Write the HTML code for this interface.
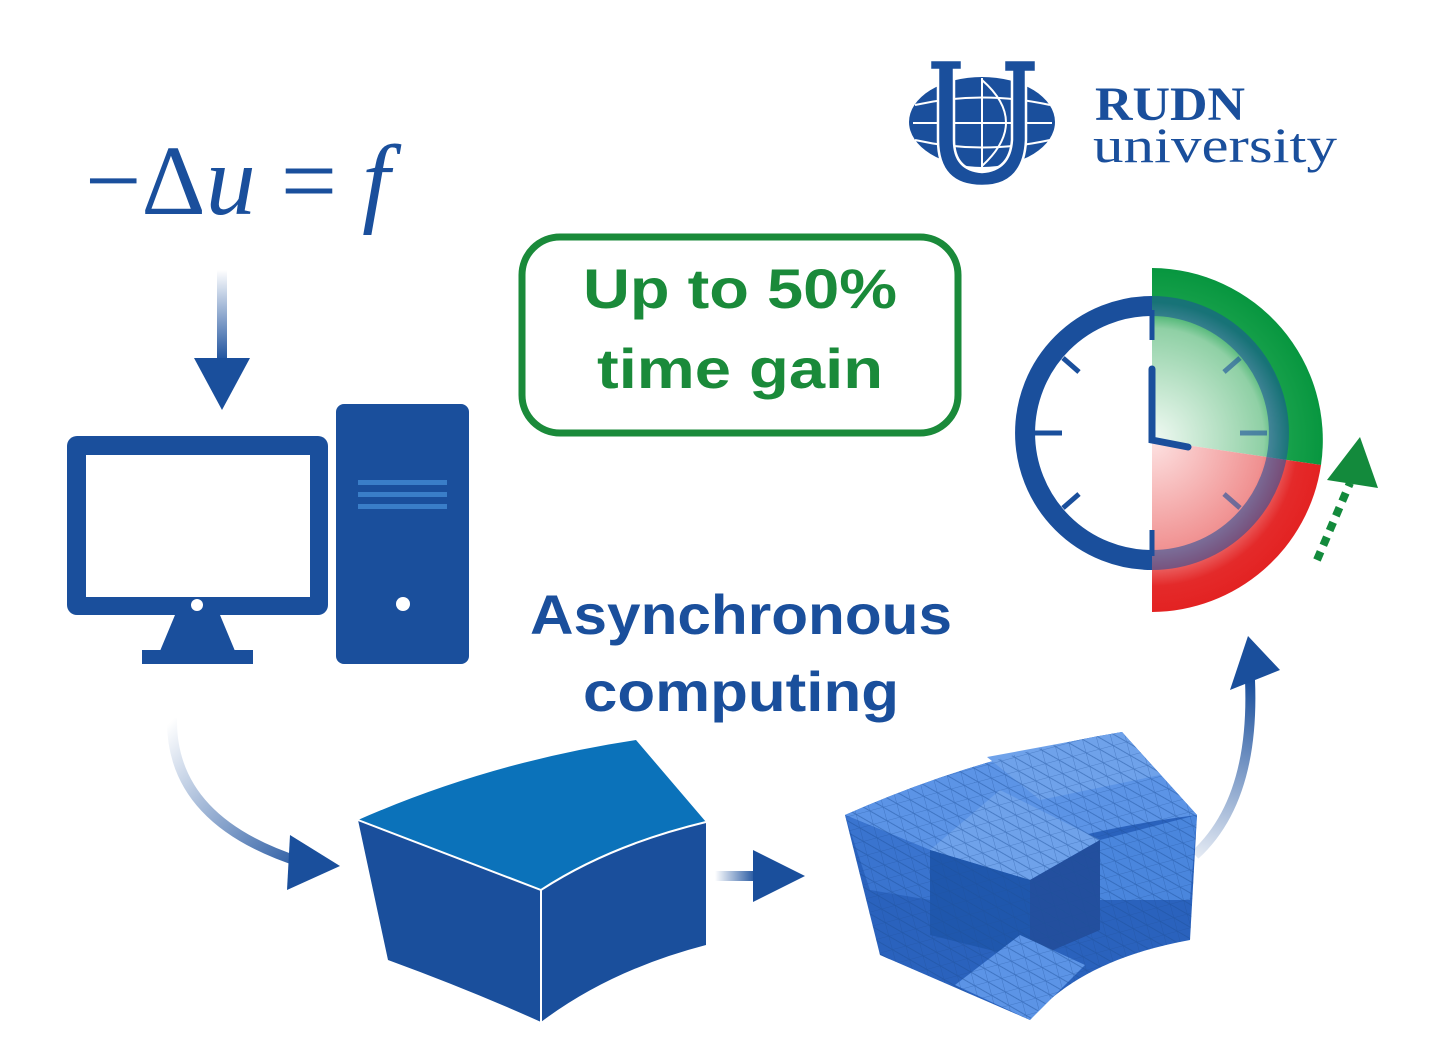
<!DOCTYPE html>
<html><head><meta charset="utf-8"><style>
html,body{margin:0;padding:0;background:#fff}
svg{display:block}
</style></head><body>
<svg width="1440" height="1054" viewBox="0 0 1440 1054" xmlns="http://www.w3.org/2000/svg">
<defs>
<linearGradient id="gdown" x1="0" y1="0" x2="0" y2="1"><stop offset="0" stop-color="#fff"/><stop offset="1" stop-color="#1a4f9c"/></linearGradient>
<linearGradient id="gl" x1="0" y1="0" x2="1" y2="0"><stop offset="0" stop-color="#fff"/><stop offset="1" stop-color="#1a4f9c"/></linearGradient>
<linearGradient id="gc1" gradientUnits="userSpaceOnUse" x1="172" y1="720" x2="320" y2="870"><stop offset="0" stop-color="#fff"/><stop offset="1" stop-color="#1a4f9c"/></linearGradient>
<linearGradient id="gc2" gradientUnits="userSpaceOnUse" x1="1195" y1="860" x2="1250" y2="680"><stop offset="0" stop-color="#e8edf5"/><stop offset="1" stop-color="#1a4f9c"/></linearGradient>
<radialGradient id="ggreen" cx="1152" cy="440" r="172" gradientUnits="userSpaceOnUse"><stop offset="0" stop-color="#f2faf4"/><stop offset="0.65" stop-color="#8fd0a5"/><stop offset="0.8" stop-color="#16a04a"/><stop offset="1" stop-color="#07963f"/></radialGradient>
<radialGradient id="gred" cx="1152" cy="440" r="172" gradientUnits="userSpaceOnUse"><stop offset="0" stop-color="#fde2e2"/><stop offset="0.65" stop-color="#f09090"/><stop offset="0.85" stop-color="#e42a2a"/><stop offset="1" stop-color="#e32222"/></radialGradient>
<pattern id="mesh" width="14" height="14" patternUnits="userSpaceOnUse" patternTransform="rotate(-15)">
<path d="M0 0H14M0 0V14M0 0L14 14" stroke="#1d4f99" stroke-width="0.8" opacity="0.55"/>
</pattern>
</defs>

<text x="85" y="214" font-family="Liberation Serif, serif" font-size="100" fill="#1a4f9c">−Δ<tspan font-style="italic">u</tspan> = <tspan font-style="italic">f</tspan></text>

<rect x="217" y="270" width="10" height="92" fill="url(#gdown)"/>
<polygon points="194,358 250,358 222,410" fill="#1a4f9c"/>

<rect x="67" y="436" width="261" height="179" rx="10" fill="#1a4f9c"/>
<rect x="86" y="455" width="224" height="142" fill="#fff"/>
<circle cx="197" cy="605" r="6" fill="#fff"/>
<polygon points="175,615 220,615 235,651 160,651" fill="#1a4f9c"/>
<rect x="142" y="650" width="111" height="14" fill="#1a4f9c"/>

<rect x="336" y="404" width="133" height="260" rx="8" fill="#1a4f9c"/>
<rect x="358" y="480" width="89" height="5" fill="#3a7ec8"/>
<rect x="358" y="492" width="89" height="5" fill="#3a7ec8"/>
<rect x="358" y="504" width="89" height="5" fill="#3a7ec8"/>
<circle cx="403" cy="604" r="7" fill="#fff"/>

<rect x="522" y="237" width="436" height="196" rx="38" fill="none" stroke="#1a8a3a" stroke-width="7"/>
<text x="583" y="308" font-family="Liberation Sans, sans-serif" font-weight="bold" font-size="56" fill="#1a8a3a" textLength="314" lengthAdjust="spacingAndGlyphs">Up to 50%</text>
<text x="597" y="388" font-family="Liberation Sans, sans-serif" font-weight="bold" font-size="56" fill="#1a8a3a" textLength="286" lengthAdjust="spacingAndGlyphs">time gain</text>

<text x="530" y="634" font-family="Liberation Sans, sans-serif" font-weight="bold" font-size="56" fill="#1a4f9c" textLength="422" lengthAdjust="spacingAndGlyphs">Asynchronous</text>
<text x="583" y="711" font-family="Liberation Sans, sans-serif" font-weight="bold" font-size="56" fill="#1a4f9c" textLength="316" lengthAdjust="spacingAndGlyphs">computing</text>

<ellipse cx="982" cy="122" rx="73" ry="45" fill="#1a4f9c"/>
<g stroke="#fff" stroke-width="2" fill="none">
<path d="M915 105 Q982 90 1050 105"/><path d="M913 123 H1052"/><path d="M915 140 Q982 155 1050 140"/>
<path d="M982 78 V168"/><path d="M982 80 Q1030 122 982 166"/>
</g>
<path d="M930 60 H962 V70 H954 V140 Q954 170 982 172 Q1010 170 1012 140 V72 H1004 V60 H1036 V72 H1026 V140 Q1024 186 982 186 Q938 186 938 140 V70 H930 Z" fill="#1a4f9c" stroke="#fff" stroke-width="2.5"/>
<text x="1095" y="120" font-family="Liberation Serif, serif" font-weight="bold" font-size="48" fill="#1a4f9c" textLength="150" lengthAdjust="spacingAndGlyphs">RUDN</text>
<text x="1093" y="162" font-family="Liberation Serif, serif" font-size="50" fill="#1a4f9c" textLength="244" lengthAdjust="spacingAndGlyphs">university</text>

<path d="M1152 268 A172 172 0 0 1 1321 465 L1152 440 Z" fill="url(#ggreen)"/>
<path d="M1152 440 L1321 465 A172 172 0 0 1 1152 612 Z" fill="url(#gred)"/>
<path d="M1152 306 A127 127 0 0 0 1152 560" fill="none" stroke="#1a4f9c" stroke-width="20"/>
<path d="M1152 306 A127 127 0 0 1 1152 560" fill="none" stroke="#1a4f9c" stroke-width="20" opacity="0.55"/>
<g stroke="#1a4f9c" stroke-width="5">
<line x1="1152" y1="310" x2="1152" y2="340"/><line x1="1152" y1="530" x2="1152" y2="556"/>
<line x1="1035" y1="433" x2="1062" y2="433"/>
<line x1="1063" y1="358" x2="1079" y2="372"/>
<line x1="1063" y1="508" x2="1079" y2="494"/>
</g>
<g stroke="#1a4f9c" stroke-width="5" opacity="0.6">
<line x1="1240" y1="433" x2="1267" y2="433"/>
<line x1="1240" y1="358" x2="1224" y2="372"/>
<line x1="1240" y1="508" x2="1224" y2="494"/>
</g>
<path d="M1152 369 V440 L1188 447" fill="none" stroke="#1a4f9c" stroke-width="7" stroke-linecap="round"/>

<g stroke="#138a3c" stroke-width="8" stroke-dasharray="9 7">
<line x1="1317" y1="560" x2="1350" y2="483"/>
</g>
<polygon points="1327,480 1378,488 1360,437" fill="#138a3c"/>

<path d="M172 718 Q170 820 300 862" fill="none" stroke="url(#gc1)" stroke-width="10"/>
<polygon points="290,835 340,866 287,890" fill="#1a4f9c"/>
<rect x="715" y="871" width="42" height="10" fill="url(#gl)"/>
<polygon points="753,850 805,876 753,902" fill="#1a4f9c"/>
<path d="M1195 855 Q1255 800 1250 680" fill="none" stroke="url(#gc2)" stroke-width="10"/>
<polygon points="1230,690 1280,670 1248,636" fill="#1a4f9c"/>

<path d="M358 820 Q490 762 636 740 L706 822 Q610 845 541 890 Z" fill="#0b72ba"/>
<path d="M358 820 L541 890 L541 1022 Q470 990 388 960 Z" fill="#1a4f9c"/>
<path d="M541 890 Q610 845 706 822 L706 945 Q610 970 541 1022 Z" fill="#1a4f9c"/>
<g stroke="#fff" stroke-width="2" fill="none"><path d="M358 820 L541 890 Q610 845 706 822"/><path d="M541 890 V1022"/></g>

<path d="M845 815 Q980 755 1122 732 L1197 815 L1190 940 Q1080 960 1030 1020 L880 955 Z" fill="#2a62bd"/>
<path d="M845 815 Q980 755 1122 732 L1197 815 Q1080 830 1000 860 L930 850 Z" fill="#5c94e6"/>
<path d="M987 757 L1122 732 L1160 775 L1040 800 Z" fill="#6fa2ea"/>
<path d="M930 850 L1000 790 L1100 840 L1030 880 Z" fill="#6fa2ea"/>
<path d="M930 850 L1030 880 L1030 960 L930 935 Z" fill="#1f57ad"/>
<path d="M1030 880 L1100 840 L1100 930 L1030 960 Z" fill="#234f9e"/>
<path d="M845 815 L930 850 L930 900 L870 890 Z" fill="#3a74cf"/>
<path d="M955 985 L1020 935 L1085 965 L1030 1020 Z" fill="#5c94e6"/>
<path d="M1100 840 L1197 815 L1190 900 L1100 900 Z" fill="#4a86dd"/>
<path d="M845 815 Q980 755 1122 732 L1197 815 L1190 940 Q1080 960 1030 1020 L880 955 Z" fill="url(#mesh)"/>
</svg>
</body></html>
